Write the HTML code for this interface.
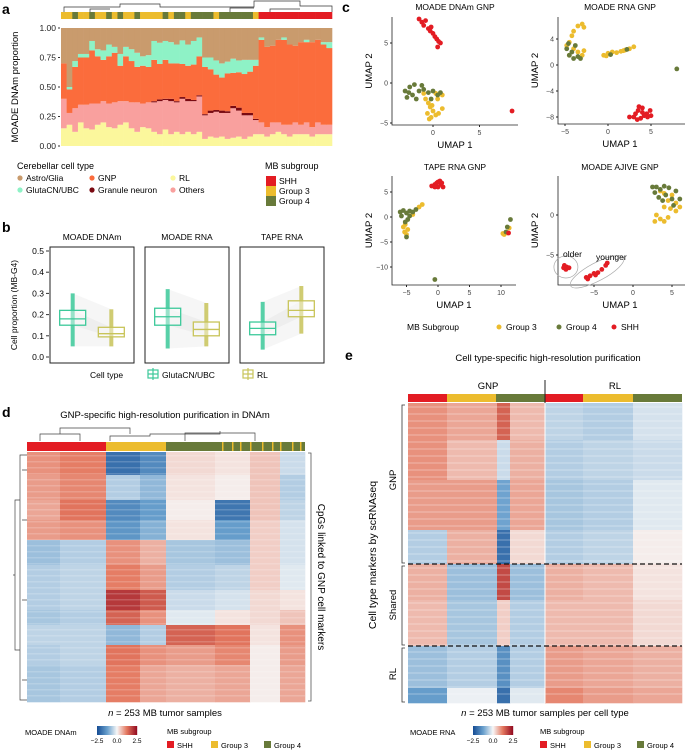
<!DOCTYPE html>
<html><head><meta charset="utf-8"><style>
body{margin:0;background:#fff}
svg{font-family:"Liberation Sans",Arial,sans-serif;display:block}
</style></head><body>
<svg id="fig" width="685" height="750" viewBox="0 0 685 750" xmlns="http://www.w3.org/2000/svg">
<g id="pa"></g>
<g id="pb"></g>
<g id="pc"></g>
<g id="pd"></g>
<g id="pe"></g>
</svg>
<script>
// ---------- Panel a data ----------
const aRL=[.15,.18,.12,.2,.15,.14,.18,.2,.16,.15,.18,.2,.15,.12,.16,.15,.12,.1,.14,.1,.12,.1,.12,.1,.12,.06,.08,.07,.08,.06,.07,.08,.06,.08,.1,.1,.08,.1,.12,.1,.08,.1,.1,.1,.08,.1,.1,.1];
const aOthers=[.25,.1,.2,.15,.2,.22,.18,.18,.2,.22,.2,.18,.22,.25,.2,.22,.25,.28,.25,.28,.25,.3,.26,.28,.3,.2,.2,.22,.2,.22,.25,.22,.2,.18,.12,.1,.08,.1,.08,.08,.1,.1,.08,.1,.08,.1,.08,.08];
const aGranule=[0,0,0,0,0,0,0,0,0,0,0,0,0,0,0,0,.01,.015,.01,.02,.01,.015,.02,.01,.01,.01,.02,.015,.02,.015,.02,.025,.02,.02,.01,0,0,0,0,0,0,0,0,0,0,0,0,0];
const aGNP=[.3,.2,.35,.4,.4,.45,.4,.35,.4,.42,.3,.38,.35,.3,.32,.3,.35,.3,.33,.3,.32,.28,.28,.3,.33,.4,.35,.3,.28,.32,.28,.3,.33,.35,.45,.7,.68,.65,.7,.72,.68,.65,.7,.68,.72,.7,.68,.65];
const aGluta=[0,.02,.05,.03,.03,.08,.06,.08,.1,.05,.1,.08,.1,.12,.08,.1,.16,.18,.16,.18,.16,.2,.18,.2,.16,.08,.1,.12,.12,.1,.12,.1,.12,.1,.05,.02,0,0,0,.02,0,0,0,.02,0,0,.02,.05];
const aSub=["G3","G3","G4","G3","G3","G4","G3","G3","G4","G3","G4","G3","G3","G4","G3","G3","G3","G3","G4","G3","G4","G4","G3","G4","G4","G4","G4","G3","G4","G4","G4","G4","G4","G4","G3","SHH","SHH","SHH","SHH","SHH","SHH","SHH","SHH","SHH","SHH","SHH","SHH","SHH"];
const aTicks=[0,0.25,0.5,0.75,1];
// ---------- Panel b data ----------
const bFacets=["MOADE DNAm","MOADE RNA","TAPE RNA"];
const bGlutaStats=[[.05,.15,.18,.22,.30],[.04,.15,.19,.23,.32],[.035,.105,.135,.165,.26]];
const bRLStats=[[.05,.095,.11,.14,.225],[.05,.10,.13,.165,.255],[.11,.19,.22,.265,.335]];
const bTicks=[0,.1,.2,.3,.4,.5];
// ---------- Panel c data ----------
const c1G3=[[-0.5,-2.5],[-0.3,-3],[-0.6,-3.8],[-0.2,-4.3],[0,-3.5],[0.3,-4],[0.6,-3.8],[1,-3.2],[-0.8,-2],[0.5,-2],[1,-1.5],[-0.4,-4.5],[0.3,-1.3],[-1,-1.3],[-0.1,-2.8]];
const c1G4=[[-3,-1],[-2.5,-0.5],[-2.2,-1.5],[-2,-0.2],[-1.5,-1],[-1,-0.8],[-0.5,-1.2],[-2.8,-1.8],[-1.8,-2],[0,-1],[0.5,-1.5],[-1.2,-0.3],[-0.2,-2],[0.8,-1.2],[-2.6,-1.2]];
const c1SHH=[[-1.5,8],[-1.2,7.6],[-1,7.2],[-0.8,7.8],[-0.5,6.8],[-0.3,6.5],[0,6.2],[0.2,5.8],[0.4,5.5],[0.6,5.2],[0.8,5],[-0.2,7],[0.5,4.5],[8.5,-3.5]];
const c2G3=[[-3.5,6],[-3,6.3],[-2.8,5.8],[-4,5.2],[-4.2,4.5],[-4.5,3.5],[-4.8,3],[-4,2.5],[-3.5,2],[-4.5,1.5],[-3,1.5],[-2.8,2.2],[-0.5,1.5],[0,1.8],[0.5,2],[1,1.9],[1.5,2.1],[2,2.3],[2.5,2.5],[3,2.8],[-0.2,1.4],[1.8,2.2]];
const c2G4=[[-4.8,2.5],[-4.5,1.5],[-4,1],[-3.5,1.3],[-4.2,2],[-3.8,3],[-4.6,3.3],[-3.2,1],[0.3,1.6],[2.2,2.4],[8,-0.6]];
const c2SHH=[[3,-8],[3.5,-7],[4,-6.6],[4.5,-7.5],[3.8,-8.2],[4.2,-7.8],[5,-7.8],[3.2,-7.5],[4.6,-8],[2.5,-8],[3.6,-6.4],[4.9,-7],[3.4,-8.4],[4,-7.3]];
const c3G3=[[-5.5,-2],[-5.3,-3],[-5,-3.5],[-4.8,-2.5],[-5.2,-1.5],[-3,2],[-2.5,2.5],[10.5,-3.5],[11,-3.2],[10.3,-3.3],[11.3,-2.2],[-4,0.5]];
const c3G4=[[-6,1],[-5.5,1.3],[-5,0.8],[-4.5,1.2],[-5.8,0.2],[-4.8,-0.5],[-5.2,-1],[-4.5,0.2],[-4,1],[-3.5,1.5],[-5,-4],[11.5,-0.5],[11,-2],[10.8,-3],[-0.5,-12.5]];
const c3SHH=[[-1,6.2],[-0.5,6.5],[0,7],[0.5,6.5],[0.8,6],[0,6],[-0.5,6],[0.3,7.2],[-0.2,6.8],[0.6,6.8],[11.2,-3.2]];
const c4G3=[[3.5,3],[4,2.7],[4.5,1.8],[5,2.5],[5.5,1.5],[4.8,0.8],[4,1],[3,0],[3.5,-0.5],[4,-0.8],[4.5,-0.3],[2.8,-0.8],[6,1],[5.5,0.5]];
const c4G4=[[3,3.5],[3.5,3.2],[4,3.6],[2.8,2.8],[3.3,2.2],[4.2,2.5],[5,2],[5.5,3],[2.5,3.5],[4.6,3.4],[3.8,1.8],[5.2,1.2],[6,2]];
const c4SHH=[[-8.8,-6.3],[-8.5,-6.5],[-8.6,-6.8],[-8.2,-6.6],[-8.9,-6.6],[-6,-7.8],[-5.5,-7.6],[-5,-7.3],[-4.5,-7.2],[-4,-6.8],[-3.5,-6.3],[-3.3,-6],[-5.8,-8],[-4.8,-7.5]];
// ---------- Panel d heatmap (coarse blocks) ----------
const dColEdges=[27,60,106,140,166,215,250,280,305];
const dRowEdges=[452,475,500,520,540,565,590,610,625,645,665,702];
const dVals=[
[1.0,1.2,-2.0,-1.6,0.3,0.2,0.5,-0.4],
[0.9,1.1,-0.6,-0.9,0.2,0.1,0.5,-0.6],
[0.8,1.3,-1.6,-1.3,0.1,-1.9,0.5,-0.5],
[0.9,1.0,-1.4,-1.0,0.2,-1.3,0.4,-0.3],
[-0.8,-0.6,1.0,0.7,-0.7,-0.8,0.4,-0.3],
[-0.6,-0.5,1.2,0.9,-0.6,-0.5,0.4,-0.2],
[-0.6,-0.5,2.0,1.6,-0.4,-0.3,0.3,0.2],
[-0.7,-0.6,1.5,1.0,-0.2,0.2,0.3,0.5],
[-0.5,-0.5,-0.9,-0.6,1.5,1.3,0.2,1.0],
[-0.6,-0.5,1.3,1.0,0.9,1.1,0.1,0.9],
[-0.7,-0.6,1.2,0.8,0.7,0.8,0.1,0.8]];
// ---------- Panel e heatmap (coarse blocks) ----------
const eColEdges=[408,447,497,510,545,583,633,682];
const eRowEdges=[403,440,480,530,564,600,646,688,703];
const eVals=[
[1.0,0.8,1.5,0.6,-0.5,-0.6,-0.3],
[1.0,0.6,-0.4,0.7,-0.6,-0.5,-0.4],
[0.9,0.9,-1.2,0.8,-0.7,-0.6,-0.2],
[-0.6,0.7,-2.0,0.3,-0.6,-0.5,0.1],
[0.7,-0.8,1.8,-0.8,0.7,0.6,0.2],
[0.6,-0.7,0.4,-0.6,0.6,0.6,0.3],
[-0.8,-0.6,-1.5,-0.6,0.9,0.8,0.7],
[-1.3,-0.1,-2.0,-0.2,1.1,0.9,0.8]];

const C={Astro:"#c99b6d",GNP:"#fb6c3c",RL:"#fbf79c",Gluta:"#8ef2c6",Granule:"#7a0a12",Others:"#f9a09e",SHH:"#e31c23",G3:"#ecbc2e",G4:"#687a3a",Gb:"#3cc99a",Rb:"#c8c45a"};
const NS="http://www.w3.org/2000/svg";
function el(p,t,a,txt){const e=document.createElementNS(NS,t);for(const k in a)e.setAttribute(k,a[k]);if(txt!==undefined)e.textContent=txt;p.appendChild(e);return e;}
function hm(v){const s=[[-2.5,[25,80,150]],[-1.25,[105,160,205]],[0,[247,247,247]],[1.25,[228,120,95]],[2.5,[150,15,35]]];v=Math.max(-2.5,Math.min(2.5,v));for(let i=0;i<4;i++){if(v<=s[i+1][0]){const t=(v-s[i][0])/(s[i+1][0]-s[i][0]);const c=s[i][1].map((a,j)=>Math.round(a+(s[i+1][1][j]-a)*t));return `rgb(${c})`;}}return "rgb(150,15,35)";}

// ===== Panel a =====
const pa=document.getElementById('pa');
let t=el(pa,'text',{x:2,y:14,"font-size":14,"font-weight":"bold"},"a");

const aX0=61,aX1=332,aY0=28,aY1=146;
const ax=i=>aX0+i*(aX1-aX0)/aRL.length, ay=v=>aY1-v*(aY1-aY0);
el(pa,'path',{d:"M64 12V7H120V4H160V7H254V1H300V6H332V12M90 12V9H110M230 12V8H254M270 12V9H300",fill:"none",stroke:"#333","stroke-width":0.7});
for(let i=0;i<aRL.length;i++){
  const s=el(pa,'rect',{x:ax(i),y:12,width:(aX1-aX0)/aRL.length+0.3,height:7,fill:C[aSub[i]]});
  
  let cum=0;const layers=[["RL",aRL[i]],["Others",aOthers[i]],["Granule",aGranule[i]],["GNP",aGNP[i]],["Gluta",aGluta[i]]];
  layers.push(["Astro",1-layers.reduce((a,b)=>a+b[1],0)]);
  for(const [k,v] of layers){if(v<=0)continue;const r=el(pa,'rect',{x:ax(i),y:ay(cum+v),width:(aX1-aX0)/aRL.length+0.3,height:v*(aY1-aY0),fill:C[k]});
    cum+=v;}
}
for(const v of aTicks){el(pa,'line',{x1:aX0-3,x2:aX0-1,y1:ay(v),y2:ay(v),stroke:"#333"});
  const tl=el(pa,'text',{x:aX0-5,y:ay(v)+3,"font-size":8.5,"text-anchor":"end",fill:"#222"},v.toFixed(2));}
t=el(pa,'text',{transform:"translate(18,87) rotate(-90)","font-size":9.5,"text-anchor":"middle"},"MOADE DNAm proportion");
t=el(pa,'text',{x:17,y:169,"font-size":9},"Cerebellar cell type");
[["Astro/Glia","Astro",20,181],["GNP","GNP",92,181],["RL","RL",173,181],["GlutaCN/UBC","Gluta",20,193],["Granule neuron","Granule",92,193],["Others","Others",173,193]].forEach(([n,k,x,y])=>{
  const c=el(pa,'circle',{cx:x,cy:y-3,r:2.6,fill:C[k]});
  const l=el(pa,'text',{x:x+6,y:y,"font-size":8.5},n);});
t=el(pa,'text',{x:265,y:169,"font-size":9},"MB subgroup");
[["SHH","SHH",176],["Group 3","G3",186],["Group 4","G4",196]].forEach(([n,k,y])=>{
  const r=el(pa,'rect',{x:266,y:y,width:10,height:10,fill:C[k]});
  const l=el(pa,'text',{x:279,y:y+8,"font-size":8.5},n);});

// ===== Panel b =====
const pb=document.getElementById('pb');
t=el(pb,'text',{x:2,y:232,"font-size":14,"font-weight":"bold"},"b");
const bY0=251,bY1=357,by=v=>bY1-(v/0.5)*(bY1-bY0);
const fx=[50,145,240],fw=84;
t=el(pb,'text',{transform:"translate(17,305) rotate(-90)","font-size":8.5,"text-anchor":"middle"},"Cell proportion (MB-G4)");
for(const v of bTicks){el(pb,'line',{x1:46,x2:49,y1:by(v),y2:by(v),stroke:"#333"});
  const tl=el(pb,'text',{x:44,y:by(v)+3,"font-size":8.5,"text-anchor":"end"},v.toFixed(1));}
bFacets.forEach((f,i)=>{
  const x0=fx[i];
  const tt=el(pb,'text',{x:x0+fw/2,y:240,"font-size":8.5,"text-anchor":"middle"},f);
  const g=bGlutaStats[i],r=bRLStats[i],gx=x0+fw*0.27,rx=x0+fw*0.73;
  el(pb,'polygon',{points:`${gx} ${by(g[1])} ${gx} ${by(g[3])} ${rx} ${by(r[3])} ${rx} ${by(r[1])}`,fill:"#e2e2e2",opacity:0.6});
  el(pb,'polygon',{points:`${gx} ${by(g[0])} ${gx} ${by(g[4])} ${rx} ${by(r[4])} ${rx} ${by(r[0])}`,fill:"#eeeeee",opacity:0.5});
  [[g,gx,C.Gb],[r,rx,C.Rb]].forEach(([s,cx,col],j)=>{
    const w=13;
    const wl=el(pb,'line',{x1:cx,x2:cx,y1:by(s[0]),y2:by(s[4]),stroke:col,"stroke-width":4,opacity:0.85});
    const bx=el(pb,'rect',{x:cx-w,y:by(s[3]),width:2*w,height:by(s[1])-by(s[3]),fill:"#fff","fill-opacity":0.4,stroke:col,"stroke-width":1.3});
    el(pb,'line',{x1:cx-w,x2:cx+w,y1:by(s[2]),y2:by(s[2]),stroke:col,"stroke-width":1.3});
  });
  const fr=el(pb,'rect',{x:x0,y:247,width:fw,height:116,fill:"none",stroke:"#222","stroke-width":1});
});
t=el(pb,'text',{x:90,y:378,"font-size":8.5},"Cell type");
[["GlutaCN/UBC",C.Gb,148],["RL",C.Rb,243]].forEach(([n,c,x])=>{
  el(pb,'rect',{x:x,y:370,width:10,height:8,fill:"none",stroke:c,"stroke-width":1.2});
  el(pb,'line',{x1:x,x2:x+10,y1:374,y2:374,stroke:c,"stroke-width":1.2});el(pb,'line',{x1:x+5,x2:x+5,y1:368,y2:380,stroke:c,"stroke-width":1.2});
  const l=el(pb,'text',{x:x+14,y:378,"font-size":8.5},n);});

// ===== Panel c =====
const pc=document.getElementById('pc');
t=el(pc,'text',{x:342,y:12,"font-size":14,"font-weight":"bold"},"c");
const subs=[
 {title:"MOADE DNAm GNP",tx:455,ty:10,L:392,B:125,R:518,T:17,x0:433,sx:9.3,y0:83,sy:8,xt:[0,5],yt:[-5,0,5],d:[c1G3,c1G4,c1SHH]},
 {title:"MOADE RNA GNP",tx:620,ty:10,L:558,B:124,R:690,T:17,x0:608,sx:8.6,y0:65,sy:6.5,xt:[-5,0,5],yt:[-8,-4,0,4],d:[c2G3,c2G4,c2SHH]},
 {title:"TAPE RNA GNP",tx:455,ty:170,L:392,B:285,R:516,T:176,x0:438,sx:6.3,y0:217,sy:5,xt:[-5,0,5,10],yt:[-10,-5,0,5],d:[c3G3,c3G4,c3SHH]},
 {title:"MOADE AJIVE GNP",tx:620,ty:170,L:558,B:285,R:690,T:176,x0:633,sx:7.8,y0:215,sy:8,xt:[-5,0,5],yt:[-5,0],d:[c4G3,c4G4,c4SHH]}];
subs.forEach((s,i)=>{
  const X=v=>s.x0+v*s.sx,Y=v=>s.y0-v*s.sy;
  const tt=el(pc,'text',{x:s.tx,y:s.ty,"font-size":8.5,"text-anchor":"middle"},s.title);
  el(pc,'path',{d:`M${s.L} ${s.T}V${s.B}H${s.R}`,fill:"none",stroke:"#222","stroke-width":0.8});
  s.xt.forEach(v=>{el(pc,'line',{x1:X(v),x2:X(v),y1:s.B,y2:s.B+2,stroke:"#222"});const l=el(pc,'text',{x:X(v),y:s.B+10,"font-size":7,"text-anchor":"middle",fill:"#444"},v<0?"−"+(-v):v);});
  s.yt.forEach(v=>{el(pc,'line',{x1:s.L-2,x2:s.L,y1:Y(v),y2:Y(v),stroke:"#222"});const l=el(pc,'text',{x:s.L-4,y:Y(v)+2.5,"font-size":7,"text-anchor":"end",fill:"#444"},v<0?"−"+(-v):v);});
  const xl=el(pc,'text',{x:(s.L+Math.min(s.R,682))/2,y:s.B+23,"font-size":9.5,"text-anchor":"middle"},"UMAP 1");
  const yl=el(pc,'text',{transform:`translate(${s.L-20},${(s.T+s.B)/2}) rotate(-90)`,"font-size":9.5,"text-anchor":"middle"},"UMAP 2");
  [["G3",C.G3],["G4",C.G4],["SHH",C.SHH]].forEach(([k,col],j)=>{
    s.d[j].forEach(p=>{const c=el(pc,'circle',{cx:X(p[0]),cy:Y(p[1]),r:2.4,fill:col});
      
      });});
  if(i===3){
    el(pc,'ellipse',{cx:X(-8.6),cy:Y(-6.5),rx:12,ry:11,fill:"none",stroke:"#aaa","stroke-width":0.7});
    el(pc,'ellipse',{cx:X(-4.6),cy:Y(-7.1),rx:30,ry:9,fill:"none",stroke:"#aaa","stroke-width":0.7,transform:`rotate(-28 ${X(-4.6)} ${Y(-7.1)})`});
    let a=el(pc,'text',{x:563,y:257,"font-size":8.5},"older");
    a=el(pc,'text',{x:596,y:260,"font-size":8.5},"younger");
  }
});
t=el(pc,'text',{x:407,y:330,"font-size":8.5},"MB Subgroup");
[["Group 3",C.G3,499],["Group 4",C.G4,559],["SHH",C.SHH,614]].forEach(([n,c,x])=>{el(pc,'circle',{cx:x,cy:327,r:2.5,fill:c});
  const l=el(pc,'text',{x:x+7,y:330,"font-size":8.5},n);});

// ===== Panel d =====
const pd=document.getElementById('pd');
t=el(pd,'text',{x:2,y:417,"font-size":14,"font-weight":"bold"},"d");
t=el(pd,'text',{x:165,y:418,"font-size":9.5,"text-anchor":"middle"},"GNP-specific high-resolution purification in DNAm");
el(pd,'path',{d:"M40 441V434H80V441M60 434V428H130V434M110 441V436H150V434H220V431M185 441V433H255V441M220 431V433",fill:"none",stroke:"#444","stroke-width":0.7});
el(pd,'path',{d:"M27 455H20V700H27M20 500H15V650H20M15 575H13M27 470H22M27 520H22M27 600H22M27 680H22",fill:"none",stroke:"#444","stroke-width":0.7});
[[27,106,"SHH"],[106,166,"G3"],[166,305,"G4"]].forEach(([a,b,k])=>{const r=el(pd,'rect',{x:a,y:442,width:b-a,height:9,fill:C[k]});});
[222,232,240,250,262,272,280,292,300].forEach(x=>el(pd,'rect',{x:x,y:442,width:1.5,height:9,fill:C.G3}));
for(let r=0;r<dVals.length;r++)for(let c=0;c<dVals[r].length;c++){
  const cell=el(pd,'rect',{x:dColEdges[c],y:dRowEdges[r],width:dColEdges[c+1]-dColEdges[c]+0.3,height:dRowEdges[r+1]-dRowEdges[r]+0.3,fill:hm(dVals[r][c])});
  }
for(let y=455;y<700;y+=6)el(pd,'rect',{x:27,y:y,width:278,height:1.5,fill:"#fff",opacity:0.18});
el(pd,'path',{d:"M308 453H311V701H308",fill:"none",stroke:"#555","stroke-width":0.8});
t=el(pd,'text',{transform:"translate(318,577) rotate(90)","font-size":10,"text-anchor":"middle"},"CpGs linked to GNP cell markers");
t=el(pd,'text',{x:165,y:716,"font-size":9.5,"text-anchor":"middle"});t.innerHTML='<tspan font-style="italic">n</tspan> = 253 MB tumor samples';
t=el(pd,'text',{x:25,y:735,"font-size":7.5},"MOADE DNAm");
// ===== Panel e =====
const pe=document.getElementById('pe');
t=el(pe,'text',{x:345,y:360,"font-size":14,"font-weight":"bold"},"e");
t=el(pe,'text',{x:548,y:361,"font-size":9.5,"text-anchor":"middle"},"Cell type-specific high-resolution purification");
t=el(pe,'text',{x:488,y:389,"font-size":9.5,"text-anchor":"middle"},"GNP");
t=el(pe,'text',{x:615,y:389,"font-size":9.5,"text-anchor":"middle"},"RL");
[[408,447,"SHH"],[447,496,"G3"],[496,545,"G4"],[545,583,"SHH"],[583,633,"G3"],[633,682,"G4"]].forEach(([a,b,k])=>{const r=el(pe,'rect',{x:a,y:394,width:b-a,height:8,fill:C[k]});});
for(let r=0;r<eVals.length;r++)for(let c=0;c<eVals[r].length;c++){
  const cell=el(pe,'rect',{x:eColEdges[c],y:eRowEdges[r],width:eColEdges[c+1]-eColEdges[c]+0.3,height:eRowEdges[r+1]-eRowEdges[r]+0.3,fill:hm(eVals[r][c])});
  }
for(let y=406;y<700;y+=7)el(pe,'rect',{x:408,y:y,width:274,height:2,fill:"#fff",opacity:0.18});
el(pe,'line',{x1:545,x2:545,y1:380,y2:403,stroke:"#222","stroke-width":1});
el(pe,'line',{x1:545,x2:545,y1:403,y2:703,stroke:"#fff","stroke-width":1});
[564,646].forEach(y=>{const l=el(pe,'line',{x1:408,x2:682,y1:y,y2:y,stroke:"#111","stroke-width":1.2,"stroke-dasharray":"5,3"});});
el(pe,'path',{d:"M405 405H402V563H405M405 566H402V645H405M405 648H402V702H405",fill:"none",stroke:"#333","stroke-width":0.8});
[["GNP",480],["Shared",605],["RL",674]].forEach(([n,y])=>{const l=el(pe,'text',{transform:`translate(396,${y}) rotate(-90)`,"font-size":9.5,"text-anchor":"middle"},n);});
t=el(pe,'text',{transform:"translate(376,555) rotate(-90)","font-size":10.5,"text-anchor":"middle"},"Cell type markers by scRNAseq");
t=el(pe,'text',{x:545,y:716,"font-size":9.5,"text-anchor":"middle"});t.innerHTML='<tspan font-style="italic">n</tspan> = 253 MB tumor samples per cell type';
t=el(pe,'text',{x:410,y:735,"font-size":7.5},"MOADE RNA");

[[pd,97,167],[pe,473,540]].forEach(([p,cx,lx])=>{
  for(let i=0;i<40;i++)el(p,'rect',{x:cx+i,y:726,width:1.2,height:9,fill:hm(-2.5+5*i/39)});
  [["−2.5",cx],["0.0",cx+20],["2.5",cx+40]].forEach(([s,x])=>{const l=el(p,'text',{x:x,y:743,"font-size":6.5,"text-anchor":"middle"},s);});
  const tt=el(p,'text',{x:lx,y:734,"font-size":7.5},"MB subgroup");
  [["SHH","SHH",0],["Group 3","G3",44],["Group 4","G4",97]].forEach(([n,k,dx])=>{el(p,'rect',{x:lx+dx,y:741,width:7,height:7,fill:C[k]});
    const l=el(p,'text',{x:lx+dx+10,y:748,"font-size":7.5},n);});
});
</script>
</body></html>
